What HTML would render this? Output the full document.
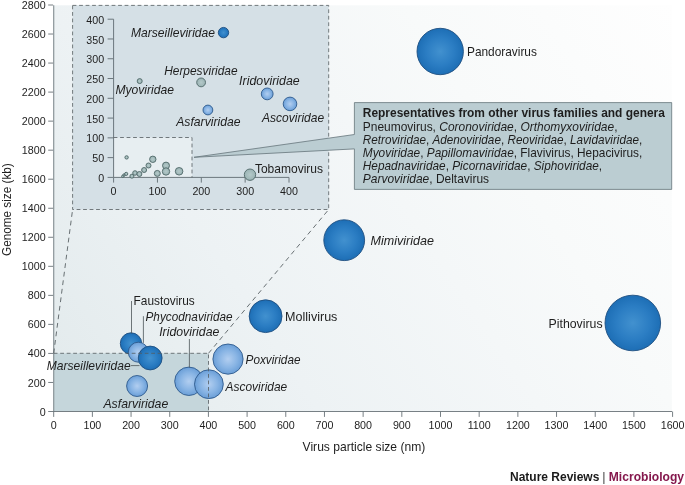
<!DOCTYPE html>
<html lang="en"><head><meta charset="utf-8"><title>Virus particle size vs genome size</title>
<style>
html,body{margin:0;padding:0;background:#fff;}
body{width:685px;height:485px;overflow:hidden;font-family:"Liberation Sans",sans-serif;}
svg{display:block}
text{font-family:"Liberation Sans",sans-serif;fill:#1e1e1e;}
.t{font-size:11.9px}
.n{font-size:10.7px}
.i{font-style:italic}
.ax{stroke:#697277;stroke-width:0.9;fill:none}
.yax{stroke:#8a9498;stroke-width:1.2;fill:none}
.iax{stroke:#6c777d;stroke-width:1;fill:none}
.dash{stroke:#545c60;stroke-width:0.8;stroke-dasharray:3.8 2.7;fill:none}
.dash2{stroke:#50585c;stroke-width:0.85;stroke-dasharray:4.8 3.8;fill:none}
.ld{stroke:#4d5559;stroke-width:0.8;fill:none}
</style></head><body>
<svg width="685" height="485" viewBox="0 0 685 485">
<defs>
<linearGradient id="bg" gradientUnits="userSpaceOnUse" x1="54" y1="411" x2="669" y2="1">
<stop offset="0" stop-color="#e2eaec"/><stop offset="0.3" stop-color="#edf2f4"/><stop offset="0.55" stop-color="#f4f7f8"/><stop offset="0.7" stop-color="#f8fafa"/><stop offset="1" stop-color="#fefefe"/>
</linearGradient>
<radialGradient id="dk" cx="0.5" cy="0.5" r="0.5">
<stop offset="0" stop-color="#4291cf"/><stop offset="0.6" stop-color="#2b7dc3"/><stop offset="1" stop-color="#1d6eb5"/>
</radialGradient>
<radialGradient id="lt" cx="0.5" cy="0.5" r="0.5">
<stop offset="0" stop-color="#b2cef0"/><stop offset="0.6" stop-color="#88b4e4"/><stop offset="1" stop-color="#6a9ed7"/>
</radialGradient>
<radialGradient id="gy" cx="0.5" cy="0.5" r="0.5">
<stop offset="0" stop-color="#b4c9c9"/><stop offset="1" stop-color="#9ab3b4"/>
</radialGradient>
</defs>
<rect width="685" height="485" fill="#fff"/>

<rect x="53.7" y="5.3" width="618.2" height="406.2" fill="url(#bg)"/>
<rect x="53.7" y="353.3" width="154.8" height="58.2" fill="#c5d6db"/>
<rect x="72.6" y="5.4" width="256.1" height="204.1" fill="#d5e0e6"/>
<rect x="113.6" y="137.5" width="78.4" height="39.9" fill="#e7eef1"/>
<path class="yax" d="M53.7 5.3V411.5"/>
<path class="ax" d="M48.2 411.5H672"/>
<path class="ax" d="M48.2 382.46H53.1M48.2 353.43H53.1M48.2 324.39H53.1M48.2 295.36H53.1M48.2 266.32H53.1M48.2 237.28H53.1M48.2 208.25H53.1M48.2 179.21H53.1M48.2 150.18H53.1M48.2 121.14H53.1M48.2 92.10H53.1M48.2 63.07H53.1M48.2 34.03H53.1M48.2 5.00H53.1M53.70 411.5V416.9M92.38 411.5V416.9M131.06 411.5V416.9M169.74 411.5V416.9M208.42 411.5V416.9M247.10 411.5V416.9M285.78 411.5V416.9M324.46 411.5V416.9M363.14 411.5V416.9M401.82 411.5V416.9M440.50 411.5V416.9M479.18 411.5V416.9M517.86 411.5V416.9M556.54 411.5V416.9M595.22 411.5V416.9M633.90 411.5V416.9M672.58 411.5V416.9"/>
<text class="n" x="45.6" y="415.5" text-anchor="end">0</text>
<text class="n" x="45.6" y="386.5" text-anchor="end">200</text>
<text class="n" x="45.6" y="357.4" text-anchor="end">400</text>
<text class="n" x="45.6" y="328.4" text-anchor="end">600</text>
<text class="n" x="45.6" y="299.4" text-anchor="end">800</text>
<text class="n" x="45.6" y="270.3" text-anchor="end">1000</text>
<text class="n" x="45.6" y="241.3" text-anchor="end">1200</text>
<text class="n" x="45.6" y="212.2" text-anchor="end">1400</text>
<text class="n" x="45.6" y="183.2" text-anchor="end">1600</text>
<text class="n" x="45.6" y="154.2" text-anchor="end">1800</text>
<text class="n" x="45.6" y="125.1" text-anchor="end">2000</text>
<text class="n" x="45.6" y="96.1" text-anchor="end">2200</text>
<text class="n" x="45.6" y="67.1" text-anchor="end">2400</text>
<text class="n" x="45.6" y="38.0" text-anchor="end">2600</text>
<text class="n" x="45.6" y="9.0" text-anchor="end">2800</text>
<text class="n" x="53.7" y="428.6" text-anchor="middle">0</text>
<text class="n" x="92.4" y="428.6" text-anchor="middle">100</text>
<text class="n" x="131.1" y="428.6" text-anchor="middle">200</text>
<text class="n" x="169.7" y="428.6" text-anchor="middle">300</text>
<text class="n" x="208.4" y="428.6" text-anchor="middle">400</text>
<text class="n" x="247.1" y="428.6" text-anchor="middle">500</text>
<text class="n" x="285.8" y="428.6" text-anchor="middle">600</text>
<text class="n" x="324.5" y="428.6" text-anchor="middle">700</text>
<text class="n" x="363.1" y="428.6" text-anchor="middle">800</text>
<text class="n" x="401.8" y="428.6" text-anchor="middle">900</text>
<text class="n" x="440.5" y="428.6" text-anchor="middle">1000</text>
<text class="n" x="479.2" y="428.6" text-anchor="middle">1100</text>
<text class="n" x="517.9" y="428.6" text-anchor="middle">1200</text>
<text class="n" x="556.5" y="428.6" text-anchor="middle">1300</text>
<text class="n" x="595.2" y="428.6" text-anchor="middle">1400</text>
<text class="n" x="633.9" y="428.6" text-anchor="middle">1500</text>
<text class="n" x="672.6" y="428.6" text-anchor="middle">1600</text>
<path class="iax" d="M113.6 19.2V177.4H289.0"/>
<path class="iax" d="M107.6 177.40H113.6M107.6 157.62H113.6M107.6 137.85H113.6M107.6 118.08H113.6M107.6 98.30H113.6M107.6 78.53H113.6M107.6 58.75H113.6M107.6 38.97H113.6M107.6 19.20H113.6M113.60 177.4V182.6M157.45 177.4V182.6M201.30 177.4V182.6M245.15 177.4V182.6M289.00 177.4V182.6"/>
<text class="n" x="104.2" y="181.9" text-anchor="end">0</text>
<text class="n" x="104.2" y="162.1" text-anchor="end">50</text>
<text class="n" x="104.2" y="142.3" text-anchor="end">100</text>
<text class="n" x="104.2" y="122.6" text-anchor="end">150</text>
<text class="n" x="104.2" y="102.8" text-anchor="end">200</text>
<text class="n" x="104.2" y="83.0" text-anchor="end">250</text>
<text class="n" x="104.2" y="63.2" text-anchor="end">300</text>
<text class="n" x="104.2" y="43.5" text-anchor="end">350</text>
<text class="n" x="104.2" y="23.7" text-anchor="end">400</text>
<text class="n" x="113.6" y="194.8" text-anchor="middle">0</text>
<text class="n" x="157.4" y="194.8" text-anchor="middle">100</text>
<text class="n" x="201.3" y="194.8" text-anchor="middle">200</text>
<text class="n" x="245.2" y="194.8" text-anchor="middle">300</text>
<text class="n" x="289.0" y="194.8" text-anchor="middle">400</text>
<text x="302.6" y="450.6" textLength="122.7" lengthAdjust="spacingAndGlyphs" style="font-size:12.4px">Virus particle size (nm)</text>
<text transform="translate(10.5 256) rotate(-90)" textLength="92.8" lengthAdjust="spacingAndGlyphs" style="font-size:12.4px">Genome size (kb)</text>
<circle cx="440.2" cy="51.5" r="23.2" fill="url(#dk)" stroke="#1f4f80" stroke-width="0.9"/>
<circle cx="344.2" cy="240.2" r="20.4" fill="url(#dk)" stroke="#1f4f80" stroke-width="0.9"/>
<circle cx="632.8" cy="323" r="27.8" fill="url(#dk)" stroke="#1f4f80" stroke-width="0.9"/>
<circle cx="265.6" cy="316.2" r="16.4" fill="url(#dk)" stroke="#1f4f80" stroke-width="0.9"/>
<circle cx="228" cy="359.1" r="15.1" fill="url(#lt)" stroke="#2f5a8c" stroke-width="0.9"/>
<circle cx="137.1" cy="386" r="10.5" fill="url(#lt)" stroke="#2f5a8c" stroke-width="0.9"/>
<circle cx="131" cy="343.5" r="10.7" fill="url(#dk)" stroke="#1f4f80" stroke-width="0.9"/>
<circle cx="138.3" cy="352.2" r="10" fill="url(#lt)" stroke="#2f5a8c" stroke-width="0.9"/>
<circle cx="150.2" cy="358" r="11.9" fill="url(#dk)" stroke="#1f4f80" stroke-width="0.9"/>
<circle cx="188.9" cy="381.3" r="14.2" fill="url(#lt)" stroke="#2f5a8c" stroke-width="0.9"/>
<circle cx="208.9" cy="384.2" r="14.4" fill="url(#lt)" stroke="#2f5a8c" stroke-width="0.9"/>
<circle cx="126.6" cy="157.4" r="1.7" fill="url(#gy)" stroke="#4f6868" stroke-width="0.9"/>
<circle cx="122.8" cy="176.3" r="1.2" fill="url(#gy)" stroke="#4f6868" stroke-width="0.9"/>
<circle cx="124.1" cy="174.9" r="1.2" fill="url(#gy)" stroke="#4f6868" stroke-width="0.9"/>
<circle cx="126.2" cy="173.9" r="1.6" fill="url(#gy)" stroke="#4f6868" stroke-width="0.9"/>
<circle cx="131.9" cy="176.2" r="2.0" fill="url(#gy)" stroke="#4f6868" stroke-width="0.9"/>
<circle cx="135" cy="173" r="2.3" fill="url(#gy)" stroke="#4f6868" stroke-width="0.9"/>
<circle cx="139.4" cy="174" r="2.5" fill="url(#gy)" stroke="#4f6868" stroke-width="0.9"/>
<circle cx="144.1" cy="170" r="2.5" fill="url(#gy)" stroke="#4f6868" stroke-width="0.9"/>
<circle cx="148.5" cy="165.5" r="2.5" fill="url(#gy)" stroke="#4f6868" stroke-width="0.9"/>
<circle cx="152.8" cy="159.3" r="3.2" fill="url(#gy)" stroke="#4f6868" stroke-width="0.9"/>
<circle cx="157.3" cy="173.4" r="3.0" fill="url(#gy)" stroke="#4f6868" stroke-width="0.9"/>
<circle cx="166" cy="165.6" r="3.5" fill="url(#gy)" stroke="#4f6868" stroke-width="0.9"/>
<circle cx="166" cy="171.5" r="3.7" fill="url(#gy)" stroke="#4f6868" stroke-width="0.9"/>
<circle cx="179.1" cy="171.3" r="3.8" fill="url(#gy)" stroke="#4f6868" stroke-width="0.9"/>
<circle cx="223.5" cy="32.6" r="5.2" fill="url(#dk)" stroke="#1f4f80" stroke-width="0.9"/>
<circle cx="201.1" cy="82.4" r="4.4" fill="url(#gy)" stroke="#4f6868" stroke-width="0.9"/>
<circle cx="267.2" cy="93.9" r="5.9" fill="url(#lt)" stroke="#2f5a8c" stroke-width="0.9"/>
<circle cx="290" cy="103.9" r="6.8" fill="url(#lt)" stroke="#2f5a8c" stroke-width="0.9"/>
<circle cx="207.9" cy="110" r="4.9" fill="url(#lt)" stroke="#2f5a8c" stroke-width="0.9"/>
<circle cx="139.7" cy="81.1" r="2.5" fill="url(#gy)" stroke="#4f6868" stroke-width="0.9"/>
<circle cx="250" cy="174.7" r="5.7" fill="url(#gy)" stroke="#4f6868" stroke-width="0.9"/>
<rect class="dash" x="72.6" y="5.4" width="256.1" height="204.1"/>
<path class="dash" d="M53.7 353.3H208.5V411.5"/>
<path class="dash2" d="M53.7 353.3L72.6 209.5M208.5 353.3L328.7 209.5"/>
<path class="dash" d="M113.6 137.5H192.0V177.4"/>
<path d="M354.4 102.6H671.7V189.4H354.4V148.9L194 157.3L354.4 134.5Z" fill="#bbcdd2" stroke="#66757b" stroke-width="0.8" stroke-linejoin="miter"/>
<path class="ld" d="M131.5 301V333.3M143.4 316.2V342.9M189.4 339V367.5M131 365.6H139.5"/>
<text class="t" x="467.0" y="56.3" textLength="69.9" lengthAdjust="spacingAndGlyphs">Pandoravirus</text>
<text class="t i" x="370.5" y="245.0" textLength="63.4" lengthAdjust="spacingAndGlyphs">Mimiviridae</text>
<text class="t" x="548.5" y="327.9" textLength="54.1" lengthAdjust="spacingAndGlyphs">Pithovirus</text>
<text class="t" x="285.1" y="321.2" textLength="52.3" lengthAdjust="spacingAndGlyphs">Mollivirus</text>
<text class="t i" x="245.6" y="363.8" textLength="54.9" lengthAdjust="spacingAndGlyphs">Poxviridae</text>
<text class="t i" x="225.5" y="390.5" textLength="61.7" lengthAdjust="spacingAndGlyphs">Ascoviridae</text>
<text class="t" x="133.6" y="305.3" textLength="61.2" lengthAdjust="spacingAndGlyphs">Faustovirus</text>
<text class="t i" x="145.5" y="320.8" textLength="87.1" lengthAdjust="spacingAndGlyphs">Phycodnaviridae</text>
<text class="t i" x="159.2" y="336.4" textLength="60.2" lengthAdjust="spacingAndGlyphs">Iridoviridae</text>
<text class="t i" x="46.8" y="369.5" textLength="83.8" lengthAdjust="spacingAndGlyphs">Marseilleviridae</text>
<text class="t i" x="103.4" y="408.0" textLength="64.9" lengthAdjust="spacingAndGlyphs">Asfarviridae</text>
<text class="t i" x="131.0" y="36.5" textLength="84.0" lengthAdjust="spacingAndGlyphs">Marseilleviridae</text>
<text class="t i" x="164.2" y="74.7" textLength="73.4" lengthAdjust="spacingAndGlyphs">Herpesviridae</text>
<text class="t i" x="239.1" y="85.2" textLength="60.6" lengthAdjust="spacingAndGlyphs">Iridoviridae</text>
<text class="t i" x="115.4" y="93.8" textLength="58.6" lengthAdjust="spacingAndGlyphs">Myoviridae</text>
<text class="t i" x="176.2" y="126.3" textLength="64.4" lengthAdjust="spacingAndGlyphs">Asfarviridae</text>
<text class="t i" x="262.0" y="121.7" textLength="62.1" lengthAdjust="spacingAndGlyphs">Ascoviridae</text>
<text class="t" x="254.9" y="172.5" textLength="68.2" lengthAdjust="spacingAndGlyphs">Tobamovirus</text>
<text class="t" x="362.8" y="117.3" textLength="302.1" lengthAdjust="spacingAndGlyphs"><tspan style="font-weight:bold">Representatives from other virus families and genera</tspan></text>
<text class="t" x="362.8" y="130.6" textLength="254.7" lengthAdjust="spacingAndGlyphs">Pneumovirus, <tspan class="i">Coronoviridae</tspan>, <tspan class="i">Orthomyxoviridae</tspan>,</text>
<text class="t" x="362.8" y="143.7" textLength="279.5" lengthAdjust="spacingAndGlyphs"><tspan class="i">Retroviridae</tspan>, <tspan class="i">Adenoviridae</tspan>, <tspan class="i">Reoviridae</tspan>, <tspan class="i">Lavidaviridae</tspan>,</text>
<text class="t" x="362.8" y="156.9" textLength="279.5" lengthAdjust="spacingAndGlyphs"><tspan class="i">Myoviridae</tspan>, <tspan class="i">Papillomaviridae</tspan>, Flavivirus, Hepacivirus,</text>
<text class="t" x="362.8" y="170.0" textLength="239.3" lengthAdjust="spacingAndGlyphs"><tspan class="i">Hepadnaviridae</tspan>, <tspan class="i">Picornaviridae</tspan>, <tspan class="i">Siphoviridae</tspan>,</text>
<text class="t" x="362.8" y="182.9" textLength="126.3" lengthAdjust="spacingAndGlyphs"><tspan class="i">Parvoviridae</tspan>, Deltavirus</text>
<text x="510" y="481.2" textLength="89.3" lengthAdjust="spacingAndGlyphs" style="font-size:12.6px;font-weight:bold;fill:#1a1a1a">Nature Reviews</text>
<text x="602.3" y="481.2" style="font-size:12.6px;fill:#444">|</text>
<text x="608.8" y="481.2" textLength="75.2" lengthAdjust="spacingAndGlyphs" style="font-size:12.6px;font-weight:bold;fill:#85184d">Microbiology</text>
</svg></body></html>
